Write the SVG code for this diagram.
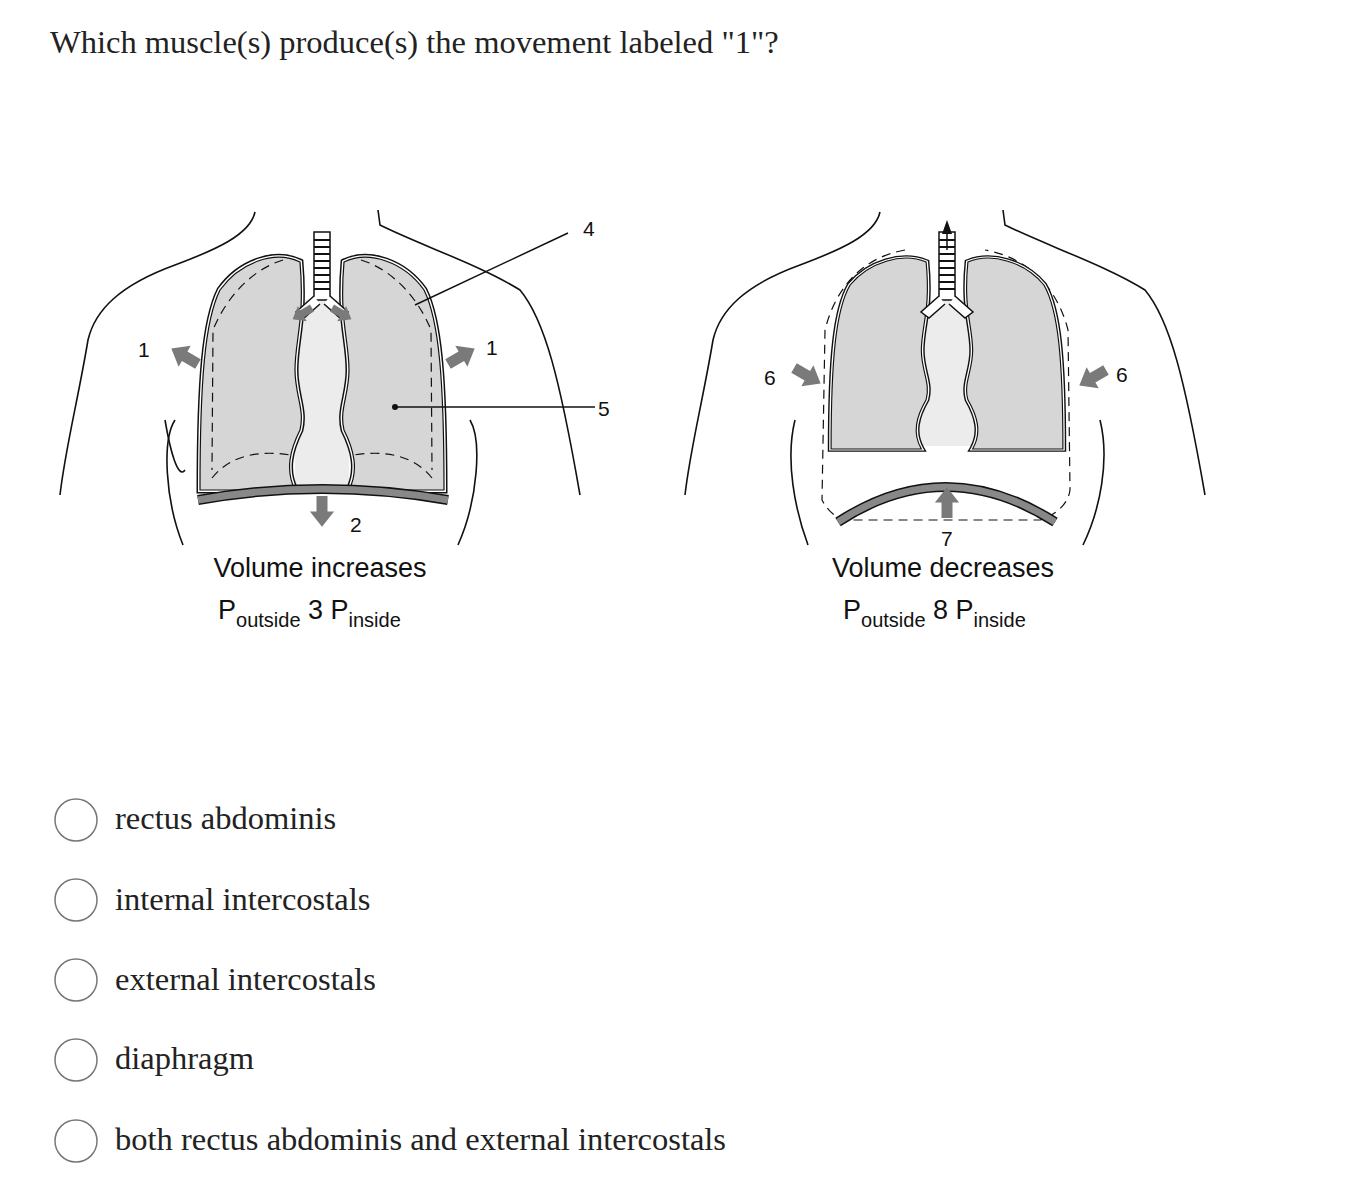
<svg xmlns="http://www.w3.org/2000/svg" width="1366" height="1200" viewBox="0 0 1366 1200">
<style>
.q{font-family:"Liberation Serif",serif;font-size:32.5px;fill:#222}
.s{font-family:"Liberation Sans",sans-serif;font-size:27px;fill:#111}
.n{font-family:"Liberation Sans",sans-serif;font-size:21px;fill:#111}
.sub{font-family:"Liberation Sans",sans-serif;font-size:20px;fill:#111}
.body{fill:none;stroke:#111;stroke-width:1.6}
.lo{fill:none;stroke:#111;stroke-width:7}
.lw{fill:none;stroke:#fff;stroke-width:4}
.lf{fill:#d6d6d6;stroke:#111;stroke-width:1.2}
.dash{fill:none;stroke:#111;stroke-width:1.2;stroke-dasharray:9 6}
.circ{fill:#fff;stroke:#777;stroke-width:1.5}
</style>
<defs>
<path id="ba" d="M0,-5 L14,-5 L14,-11 L28,0 L14,11 L14,5 L0,5 Z" fill="#7a7a7a"/>
<path id="lungL" d="M300 262 C275 250 240 262 220 290 C205 320 200 380 200 490 L295 490 C285 470 290 450 300 430 C305 410 295 395 295 370 C295 340 305 320 300 262 Z"/>
<path id="lungR" d="M344 262 C369 250 404 262 424 290 C439 320 444 380 444 490 L349 490 C359 470 354 450 344 430 C339 410 349 395 349 370 C349 340 339 320 344 262 Z"/>
<g id="trach">
<rect x="314" y="232" width="16" height="68" fill="#fff" stroke="#111" stroke-width="1.5"/>
<path d="M314 240h16M314 247h16M314 254h16M314 261h16M314 268h16M314 275h16M314 282h16M314 289h16" stroke="#111" stroke-width="2"/>
<path d="M314 296 L296 312 L304 318 L320 304 M330 296 L348 312 L340 318 L324 304" fill="#fff" stroke="#111" stroke-width="1.5"/>
</g>
</defs>
<text class="q" x="50" y="53">Which muscle(s) produce(s) the movement labeled "1"?</text>

<g id="figure-left">
<path class="body" d="M255 212 C250 235 215 250 175 265 C120 285 95 310 88 340 C78 400 65 450 60 495"/>
<path class="body" d="M378 210 L380 225 C420 245 480 265 520 290 C545 320 560 380 580 495"/>
<path class="body" d="M175 420 C162 440 165 500 183 545"/>
<path class="body" d="M470 420 C482 440 478 500 458 545"/>
<path class="body" d="M165 420 C170 450 178 480 185 470"/>
<rect x="295" y="300" width="54" height="192" fill="#ececec"/>
<use href="#lungL" class="lo"/><use href="#lungR" class="lo"/>
<use href="#lungL" class="lw"/><use href="#lungR" class="lw"/>
<use href="#lungL" class="lf"/><use href="#lungR" class="lf"/>
<path class="dash" d="M283 260 C250 270 225 300 213 330 L212 470 M212 478 C230 455 260 450 290 455"/>
<path class="dash" d="M361 260 C394 270 419 300 431 330 L432 470 M432 478 C414 455 384 450 354 455"/>
<use href="#trach"/>
<path d="M198 500 Q322 478 448 500" fill="none" stroke="#111" stroke-width="10"/>
<path d="M198 500 Q322 478 448 500" fill="none" stroke="#888" stroke-width="7"/>
<use href="#ba" transform="translate(198,364) rotate(-150) scale(1.1)"/>
<use href="#ba" transform="translate(448,364) rotate(-30) scale(1.1)"/>
<use href="#ba" transform="translate(322,496) rotate(90) scale(1.1)"/>
<use href="#ba" transform="translate(312,308) rotate(150) scale(0.8)"/>
<use href="#ba" transform="translate(332,308) rotate(30) scale(0.8)"/>
<path d="M415 305 L568 233" stroke="#111" stroke-width="1.5"/>
<circle cx="395" cy="407" r="3" fill="#111"/>
<path d="M395 407 L595 407" stroke="#111" stroke-width="1.5"/>
<text class="n" x="138" y="357">1</text>
<text class="n" x="486" y="355">1</text>
<text class="n" x="583" y="236">4</text>
<text class="n" x="598" y="416">5</text>
<text class="n" x="350" y="532">2</text>
<text class="s" x="320" y="577" text-anchor="middle">Volume increases</text>
<text class="s" x="218" y="619">P<tspan class="sub" dy="8">outside</tspan><tspan dy="-8"> 3 P</tspan><tspan class="sub" dy="8">inside</tspan></text>
</g>

<g id="figure-right">
<path class="body" d="M880 212 C875 235 840 250 800 265 C745 285 720 310 713 340 C703 400 690 450 685 495"/>
<path class="body" d="M1003 210 L1005 225 C1045 245 1105 265 1145 290 C1170 320 1185 380 1205 495"/>
<path class="body" d="M795 420 C785 460 795 510 808 545"/>
<path class="body" d="M1100 420 C1110 460 1100 510 1083 545"/>
<path class="dash" d="M905 250 C860 258 835 290 825 330 L822 500 C830 515 840 520 850 520 L1040 520 C1055 515 1068 505 1070 490 L1068 330 C1058 290 1030 258 985 250"/>
<g transform="translate(625,0)">
<rect x="295" y="300" width="54" height="146" fill="#ececec"/>
<g transform="translate(322,262) scale(0.95,0.82) translate(-322,-262)">
<use href="#lungL" class="lo"/><use href="#lungR" class="lo"/>
<use href="#lungL" class="lw"/><use href="#lungR" class="lw"/>
<use href="#lungL" class="lf"/><use href="#lungR" class="lf"/>
</g>
<use href="#trach"/>
</g>
<path d="M838 522 Q945 452 1055 522" fill="none" stroke="#111" stroke-width="10"/>
<path d="M838 522 Q945 452 1055 522" fill="none" stroke="#888" stroke-width="7"/>
<use href="#ba" transform="translate(947,518) rotate(-90) scale(1.1)"/>
<path d="M947 232 L947 250" stroke="#111" stroke-width="1.5"/>
<path d="M942 234 L947 220 L952 234 Z" fill="#111"/>
<use href="#ba" transform="translate(794,368) rotate(30) scale(1.1)"/>
<use href="#ba" transform="translate(1106,370) rotate(150) scale(1.1)"/>
<text class="n" x="764" y="385">6</text>
<text class="n" x="1116" y="382">6</text>
<text class="n" x="941" y="546">7</text>
<text class="s" x="943" y="577" text-anchor="middle">Volume decreases</text>
<text class="s" x="843" y="619">P<tspan class="sub" dy="8">outside</tspan><tspan dy="-8"> 8 P</tspan><tspan class="sub" dy="8">inside</tspan></text>
</g>

<g id="options">
<circle class="circ" cx="76" cy="820" r="21"/><text class="q" x="115" y="829">rectus abdominis</text>
<circle class="circ" cx="76" cy="900" r="21"/><text class="q" x="115" y="910">internal intercostals</text>
<circle class="circ" cx="76" cy="980" r="21"/><text class="q" x="115" y="990">external intercostals</text>
<circle class="circ" cx="76" cy="1060" r="21"/><text class="q" x="115" y="1069">diaphragm</text>
<circle class="circ" cx="76" cy="1141" r="21"/><text class="q" x="115" y="1150">both rectus abdominis and external intercostals</text>
</g>
</svg>
